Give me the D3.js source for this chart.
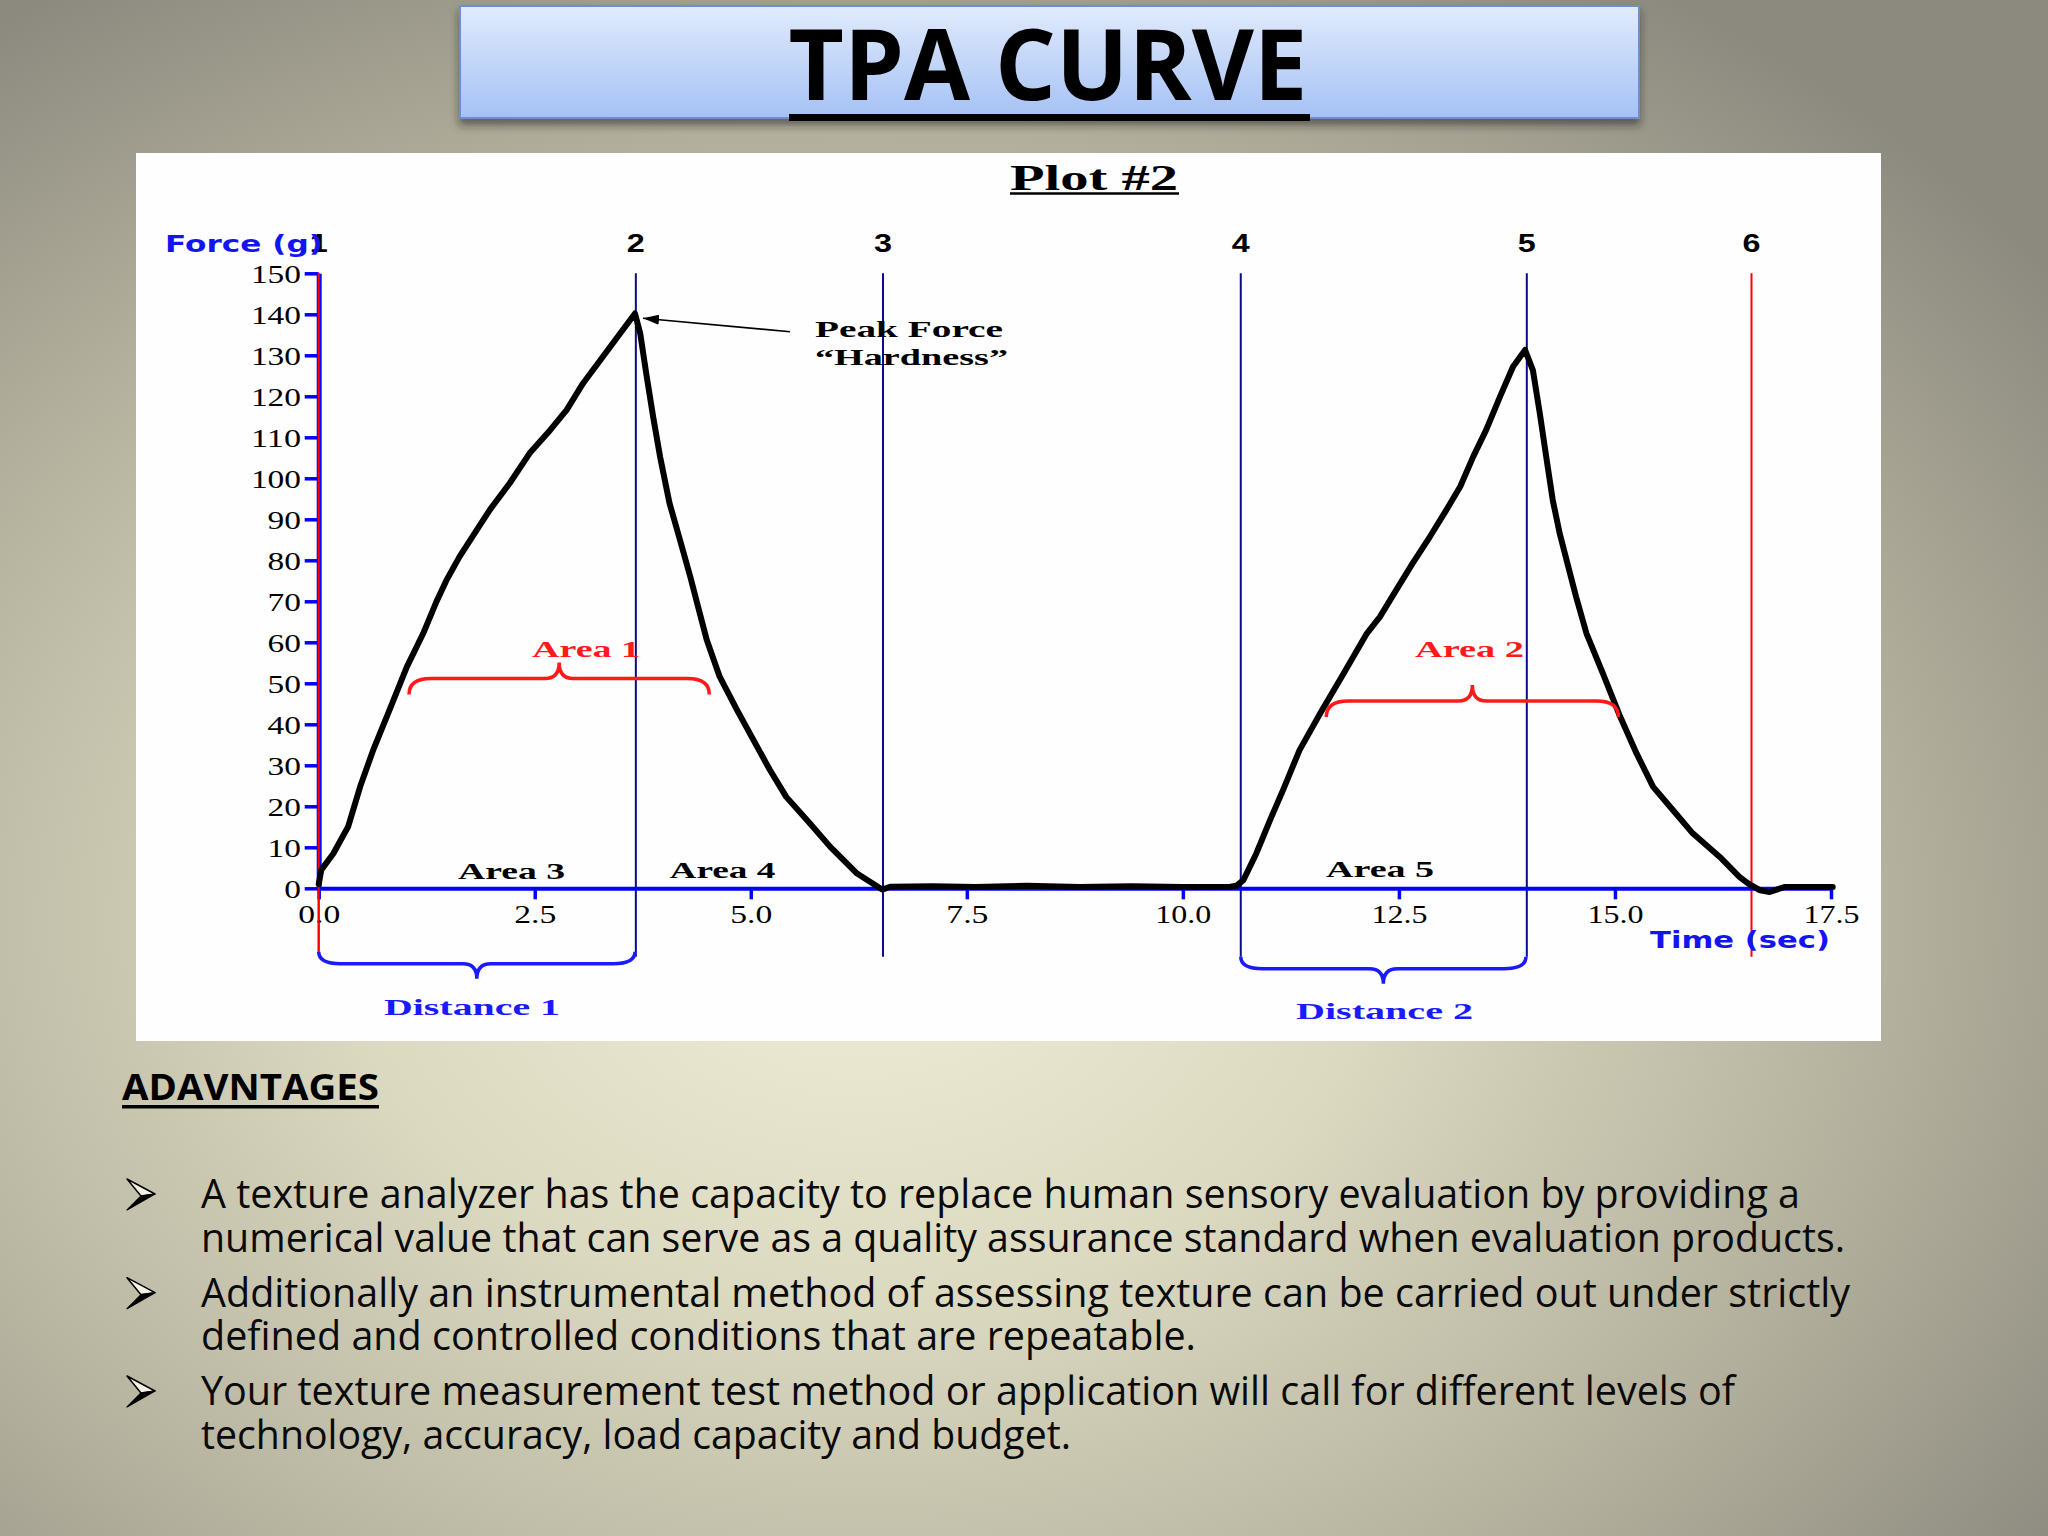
<!DOCTYPE html>
<html>
<head>
<meta charset="utf-8">
<script src="https://cdn.jsdelivr.net/npm/d3@7"></script>
<style>
body { margin: 0; background: #b8b5a2; }
svg { display: block; }
</style>
</head>
<body>
<svg id="slide" width="2048" height="1536"></svg>
<script>
// force curve: time in sec, force in g
var timeSec = [0, 0.03, 0.17, 0.34, 0.48, 0.63, 0.82, 1.02, 1.21, 1.36, 1.48, 1.63, 1.83, 1.98, 2.21,
  2.44, 2.68, 2.87, 3.06, 3.29, 3.49, 3.66,
  3.72, 3.79, 3.87, 3.95, 4.06, 4.18, 4.30, 4.39, 4.49, 4.64, 4.84, 5.03, 5.22, 5.41, 5.68, 5.92, 6.23, 6.52,
  6.62, 7.10, 7.60, 8.20, 8.80, 9.40, 10.00, 10.55, 10.62,
  10.70, 10.85, 11.01, 11.16, 11.35, 11.59, 11.86, 12.13, 12.28, 12.47, 12.66, 12.86, 13.05, 13.21, 13.36,
  13.51, 13.67, 13.82, 13.96,
  14.05, 14.13, 14.21, 14.28, 14.36, 14.46, 14.55, 14.67, 14.86, 15.06, 15.25, 15.44, 15.67, 15.90, 16.21,
  16.44, 16.54, 16.68, 16.79, 16.96, 17.52];
var forceG = [1.0, 4.5, 8.5, 15.0, 24.8, 33.7, 43.5, 54.0, 62.2, 69.8, 75.2, 80.9, 87.4, 92.3, 98.8,
  106.1, 111.8, 116.7, 123.2, 129.7, 135.4, 140.2,
  135.4, 125.6, 115, 105.3, 93.9, 85, 76, 68.7, 60.6, 51.6, 43.5, 36.2, 28.9, 22.3, 15.9, 10.1, 3.6, -0.3,
  0.4, 0.5, 0.3, 0.6, 0.3, 0.5, 0.3, 0.4, 0.6,
  2.0, 8.5, 16.7, 24, 33.7, 42.7, 52.4, 62.2, 66.2, 72.8, 79.3, 85.8, 92.3, 98, 105.3,
  111.8, 119.9, 127.2, 131.3,
  126.4, 115.9, 104.5, 94.7, 86.6, 78.4, 71.1, 62.2, 52.4, 41.9, 32.9, 24.8, 19.1, 13.4, 7.7,
  2.8, 1.2, -0.5, -0.9, 0.3, 0.3];

var markerNames = ['1', '2', '3', '4', '5', '6'];
var markerTimes = [0, 3.67, 6.53, 10.67, 13.98, 16.58];

var xTicks = [0, 2.5, 5, 7.5, 10, 12.5, 15, 17.5];
var yTicks = [0, 10, 20, 30, 40, 50, 60, 70, 80, 90, 100, 110, 120, 130, 140, 150];

var bulletLines = [
  ['A texture analyzer has the capacity to replace human sensory evaluation by providing a',
   'numerical value that can serve as a quality assurance standard when evaluation products.'],
  ['Additionally an instrumental method of assessing texture can be carried out under strictly',
   'defined and controlled conditions that are repeatable.'],
  ['Your texture measurement test method or application will call for different levels of',
   'technology, accuracy, load capacity and budget.']
];
var bulletWidths = [[1599, 1644], [1649, 995], [1534, 870]];

var svg = d3.select('#slide');
var defs = svg.append('defs');

// slide background
var bg = defs.append('radialGradient').attr('id', 'bg')
    .attr('cx', 0.42).attr('cy', 0.6).attr('r', 0.72);
bg.append('stop').attr('offset', 0).attr('stop-color', '#f0eed7');
bg.append('stop').attr('offset', 0.35).attr('stop-color', '#dcd9c1');
bg.append('stop').attr('offset', 0.72).attr('stop-color', '#b1ae9b');
bg.append('stop').attr('offset', 1).attr('stop-color', '#8c8a7f');
svg.append('rect').attr('width', 2048).attr('height', 1536).attr('fill', 'url(#bg)');

// title box
var tg = defs.append('linearGradient').attr('id', 'titlefill')
    .attr('x1', 0).attr('y1', 0).attr('x2', 0).attr('y2', 1);
tg.append('stop').attr('offset', 0).attr('stop-color', '#e1ebfc');
tg.append('stop').attr('offset', 1).attr('stop-color', '#a5c1f4');
var sh = defs.append('filter').attr('id', 'shadow')
    .attr('x', -0.05).attr('y', -0.2).attr('width', 1.1).attr('height', 1.5);
sh.append('feDropShadow').attr('dx', 0).attr('dy', 6).attr('stdDeviation', 4)
    .attr('flood-color', '#222').attr('flood-opacity', 0.55);

svg.append('rect')
    .attr('x', 460).attr('y', 6).attr('width', 1179).attr('height', 112)
    .attr('fill', 'url(#titlefill)').attr('stroke', '#6d8ed0').attr('stroke-width', 2)
    .attr('filter', 'url(#shadow)');
svg.append('text')
    .attr('x', 1048).attr('y', 100).attr('text-anchor', 'middle')
    .attr('font-family', 'Open Sans').attr('font-weight', 'bold').attr('font-size', 99)
    .attr('textLength', 519).attr('lengthAdjust', 'spacingAndGlyphs')
    .text('TPA CURVE');
svg.append('rect').attr('x', 789).attr('y', 114).attr('width', 521).attr('height', 7).attr('fill', '#000');

// chart panel
svg.append('rect').attr('x', 136).attr('y', 153).attr('width', 1745).attr('height', 888).attr('fill', '#fefefe');

var x = d3.scaleLinear().domain([0, 17.5]).range([318.7, 1831]);
var y = d3.scaleLinear().domain([0, 150]).range([888.3, 273.3]);

var chart = svg.append('g');

var serif = 'Liberation Serif';
var wide = function(sel, w) {
    sel.attr('textLength', w).attr('lengthAdjust', 'spacingAndGlyphs');
};

// plot heading
chart.append('text').attr('x', 1010).attr('y', 190)
    .attr('font-family', serif).attr('font-weight', 'bold').attr('font-size', 35)
    .call(wide, 168).text('Plot #2');
chart.append('line').attr('x1', 1010).attr('x2', 1179).attr('y1', 193.5).attr('y2', 193.5)
    .attr('stroke', '#000').attr('stroke-width', 2.5);

// marker lines 1..6
markerTimes.forEach(function(t, i) {
    var edge = (i === 0 || i === markerTimes.length - 1);
    chart.append('line')
        .attr('x1', x(t)).attr('x2', x(t))
        .attr('y1', y(150)).attr('y2', i === 0 ? 951.7 : 956.7)
        .attr('stroke', edge ? '#ff0000' : '#0a0a8a').attr('stroke-width', 2);
    chart.append('text')
        .attr('x', x(t)).attr('y', 252).attr('text-anchor', 'middle')
        .attr('font-family', 'Liberation Sans').attr('font-weight', 'bold').attr('font-size', 26)
        .call(wide, 18).text(markerNames[i]);
});

// axes
var yAxis = chart.append('g').attr('transform', 'translate(' + x(0) + ',0)')
    .call(d3.axisLeft(y).tickValues(yTicks).tickSize(14).tickSizeOuter(0));
yAxis.select('.domain').attr('stroke', '#0000ff').attr('stroke-width', 5);
yAxis.selectAll('.tick line').attr('stroke', '#0000ff').attr('stroke-width', 3.5);
yAxis.selectAll('.tick text')
    .attr('font-family', serif).attr('font-size', 25).attr('fill', '#000')
    .attr('x', -17.7).attr('dy', null).attr('y', 9)
    .attr('textLength', function(d) { return String(d).length * 16.7; })
    .attr('lengthAdjust', 'spacingAndGlyphs');

var xAxis = chart.append('g').attr('transform', 'translate(0,' + y(0) + ')')
    .call(d3.axisBottom(x).tickValues(xTicks).tickSize(11).tickSizeOuter(0).tickFormat(d3.format('.1f')));
xAxis.select('.domain').attr('stroke', '#0000ff').attr('stroke-width', 4);
xAxis.selectAll('.tick line').attr('stroke', '#0000ff').attr('stroke-width', 3.5);
xAxis.selectAll('.tick text')
    .attr('font-family', serif).attr('font-size', 25).attr('fill', '#000')
    .attr('dy', null).attr('y', 35)
    .attr('textLength', function(d) { return d3.format('.1f')(d).length * 14; })
    .attr('lengthAdjust', 'spacingAndGlyphs');

// red marker over the y axis
chart.append('line').attr('x1', x(0)).attr('x2', x(0)).attr('y1', y(150)).attr('y2', 951.7)
    .attr('stroke', '#ff0000').attr('stroke-width', 2);

// the force curve
var line = d3.line()
    .x(function(i) { return x(timeSec[i]); })
    .y(function(i) { return y(forceG[i]); });
chart.append('path')
    .datum(d3.range(timeSec.length))
    .attr('d', line)
    .attr('fill', 'none').attr('stroke', '#000').attr('stroke-width', 6)
    .attr('stroke-linejoin', 'round').attr('stroke-linecap', 'round');

// axis titles
chart.append('text').attr('x', 165).attr('y', 251.7)
    .attr('font-family', 'DejaVu Sans').attr('font-weight', 'bold').attr('font-size', 23)
    .attr('fill', '#1414f0').call(wide, 158).text('Force (g)');
chart.append('text').attr('x', 1650).attr('y', 948.3)
    .attr('font-family', 'DejaVu Sans').attr('font-weight', 'bold').attr('font-size', 23)
    .attr('fill', '#1414f0').call(wide, 180).text('Time (sec)');

// braces
var brace = function(x1, x2, yb, tip, apex, rEnd, rMid) {
    var xm = (x1 + x2) / 2;
    return 'M' + x1 + ',' + (yb + tip) +
        'Q' + x1 + ',' + yb + ' ' + (x1 + rEnd) + ',' + yb +
        'L' + (xm - rMid) + ',' + yb +
        'Q' + xm + ',' + yb + ' ' + xm + ',' + (yb + apex) +
        'Q' + xm + ',' + yb + ' ' + (xm + rMid) + ',' + yb +
        'L' + (x2 - rEnd) + ',' + yb +
        'Q' + x2 + ',' + yb + ' ' + x2 + ',' + (yb + tip);
};
chart.append('path').attr('d', brace(x(1.045), x(4.52), y(51.2), 16, -16, 22, 14))
    .attr('fill', 'none').attr('stroke', '#ff1a1a').attr('stroke-width', 3.5);
chart.append('path').attr('d', brace(x(11.66), x(15.04), y(45.7), 16, -16, 22, 14))
    .attr('fill', 'none').attr('stroke', '#ff1a1a').attr('stroke-width', 3.5);
chart.append('path').attr('d', brace(x(0), x(3.66), y(-18.4), -12, 15, 22, 14))
    .attr('fill', 'none').attr('stroke', '#1a1aff').attr('stroke-width', 3.5);
chart.append('path').attr('d', brace(x(10.67), x(13.97), y(-19.6), -12, 15, 22, 14))
    .attr('fill', 'none').attr('stroke', '#1a1aff').attr('stroke-width', 3.5);

// area and distance labels
var label = function(txt, x0, yb, w, color) {
    chart.append('text').attr('x', x0).attr('y', yb)
        .attr('font-family', serif).attr('font-weight', 'bold').attr('font-size', 24)
        .attr('fill', color).call(wide, w).text(txt);
};
label('Area 1', 532, 657, 108, '#ff1a1a');
label('Area 2', 1415, 657, 109, '#ff1a1a');
label('Area 3', 458, 879, 107, '#000');
label('Area 4', 669.5, 877.7, 106, '#000');
label('Area 5', 1326, 877, 108, '#000');
label('Distance 1', 384, 1015, 176, '#1a1aff');
label('Distance 2', 1296, 1019, 177, '#1a1aff');
label('Peak Force', 815, 337.3, 188, '#000');
label('\u201cHardness\u201d', 815, 365, 193, '#000');

// arrow to the first peak
defs.append('marker').attr('id', 'arrow-head')
    .attr('orient', 'auto').attr('markerUnits', 'userSpaceOnUse')
    .attr('refX', 16).attr('refY', 5).attr('markerWidth', 16).attr('markerHeight', 10)
    .append('path').attr('d', 'M 0 0 L 16 5 L 0 10 Z').attr('fill', '#000');
chart.append('line')
    .attr('x1', 790).attr('y1', 331.7).attr('x2', 643).attr('y2', 318.3)
    .attr('stroke', '#000').attr('stroke-width', 1.6)
    .attr('marker-end', 'url(#arrow-head)');

// advantages text
svg.append('text').attr('x', 122).attr('y', 1100)
    .attr('font-family', 'Open Sans').attr('font-weight', 'bold').attr('font-size', 35)
    .call(wide, 257).text('ADAVNTAGES');
svg.append('rect').attr('x', 122).attr('y', 1105).attr('width', 257).attr('height', 3.5).attr('fill', '#000');

// bullet arrowheads (two-tone, like the slide's wingdings bullet) and text
var bulletTop = [1208, 1306.7, 1405];
bulletLines.forEach(function(pair, i) {
    var b = svg.append('g').attr('transform', 'translate(0,' + (bulletTop[i] - 1208) + ')');
    b.append('path').attr('d', 'M127,1179 L155,1194 L141,1196 Z')
        .attr('fill', '#f4f2e4').attr('stroke', '#000').attr('stroke-width', 1.5).attr('stroke-linejoin', 'round');
    b.append('path').attr('d', 'M141,1196 L155,1194 L127,1210 Z')
        .attr('fill', '#000').attr('stroke', '#000').attr('stroke-width', 1.2).attr('stroke-linejoin', 'round');

    var t = svg.append('text')
        .attr('font-family', 'Open Sans').attr('font-size', 41).attr('fill', '#0a0a0a');
    pair.forEach(function(s, j) {
        t.append('tspan').attr('x', 201).attr('y', bulletTop[i] + j * 43.7)
            .call(wide, bulletWidths[i][j]).text(s);
    });
});
</script>
</body>
</html>
